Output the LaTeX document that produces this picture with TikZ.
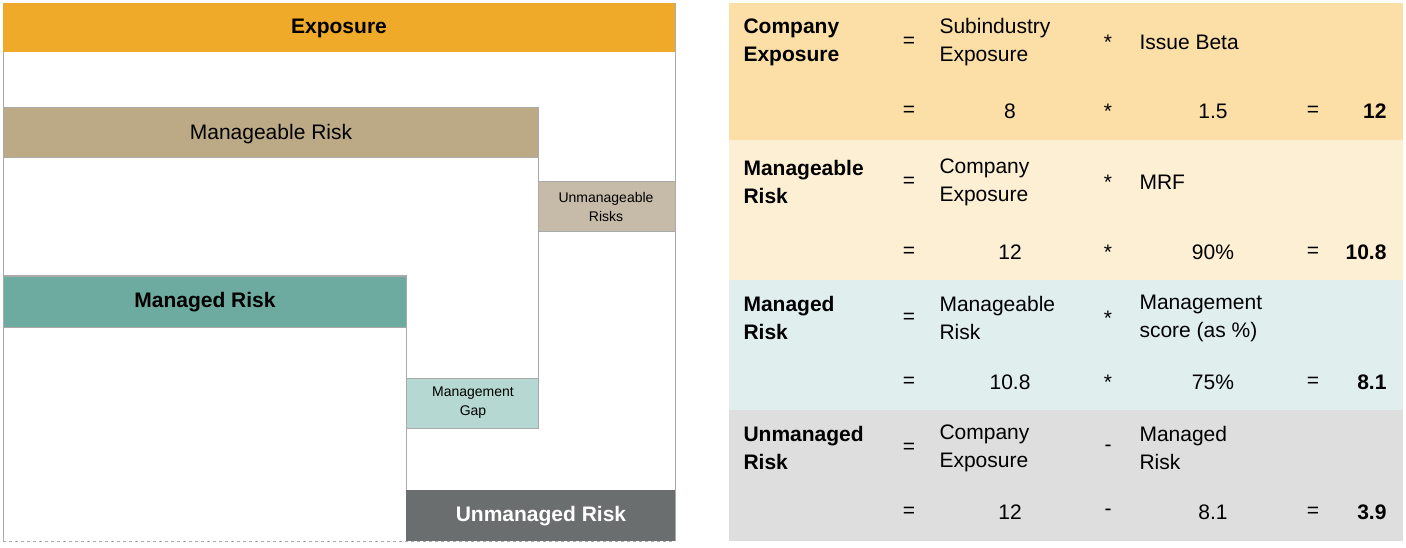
\documentclass[tikz,border=0pt]{standalone}
\usepackage{fontspec}
\setmainfont{Liberation Sans}
\definecolor{cExp}{HTML}{EEAA28}
\definecolor{cMab}{HTML}{BCA985}
\definecolor{cUnm}{HTML}{C5BBA8}
\definecolor{cMgd}{HTML}{6DAAA0}
\definecolor{cGap}{HTML}{B5D8D2}
\definecolor{cUnd}{HTML}{6B6E6E}
\definecolor{r1}{HTML}{FCDFA6}
\definecolor{r2}{HTML}{FDEFD3}
\definecolor{r3}{HTML}{E1EEEE}
\definecolor{r4}{HTML}{DEDEDE}
\definecolor{ln}{HTML}{AAAAAA}
\begin{document}
\begin{tikzpicture}[x=1pt,y=-1pt,
  bar/.style={draw=ln,line width=1pt},
  big/.style={font=\fontsize{21}{24}\selectfont},
  bigb/.style={font=\fontsize{21}{24}\selectfont\bfseries},
  small/.style={font=\fontsize{14}{19}\selectfont,align=center},
  cell/.style={font=\fontsize{21}{28}\selectfont,align=left},
  cellb/.style={font=\fontsize{21}{28}\selectfont\bfseries,align=left}]
\useasboundingbox (0,0) rectangle (1406,548);
% left panel
\draw[ln,line width=1pt] (3,3) -- (3,541);
\draw[ln,line width=1pt] (675,3) -- (675,541);
\draw[ln,dashed,line width=1pt] (3,541) -- (675,541);
\draw[ln,line width=1pt] (538,108) -- (538,428);
\draw[ln,line width=1pt] (406,276) -- (406,541);
\fill[cExp] (3,3) rectangle (675,52);
\node[bigb] (exp) at (339,28) {Exposure};
\draw[bar,fill=cMab] (3,108) rectangle (538,158);
\node[big] (mab) at (271,134) {Manageable Risk};
\draw[bar,fill=cUnm] (538,182) rectangle (675,232);
\node[small] (unm) at (606,207) {Unmanageable\\Risks};
\draw[bar,fill=cMgd] (3,276) rectangle (406,327);
\node[bigb] (mgd) at (205,302) {Managed Risk};
\draw[bar,fill=cGap] (406,378) rectangle (538,428);
\node[small] (gap) at (473,403) {Management\\Gap};
\fill[cUnd] (406,490) rectangle (675,541);
\node[bigb,text=white] (und) at (541,516) {Unmanaged Risk};
% right table
\fill[r1] (729,3) rectangle (1403,140);
\fill[r2] (729,140) rectangle (1403,280);
\fill[r3] (729,280) rectangle (1403,410);
\fill[r4] (729,410) rectangle (1403,541);
\foreach \yA/\yB/\lab/\ca/\op/\cb/\na/\nb/\res [count=\i] in
 {42/111/Company\\Exposure/Subindustry\\Exposure/*/Issue Beta/8/1.5/12,
  182/252/Manageable\\Risk/Company\\Exposure/*/MRF/12/90\%/10.8,
  318/382/Managed\\Risk/Manageable\\Risk/*/Management\\score (as \%)/10.8/75\%/8.1,
  448/512/Unmanaged\\Risk/Company\\Exposure/-/Managed\\Risk/12/8.1/3.9}{
  \node[cellb,anchor=west] (l\i) at (740,\yA) {\lab};
  \node[cell] (e\i) at (909,\yA) {=};
  \node[cell,anchor=west] (a\i) at (936,\yA) {\ca};
  \node[cell] (o\i) at (1108,\yA) {\op};
  \node[cell,anchor=west] (b\i) at (1136,\yA) {\cb};
  \node[cell] (f\i) at (909,\yB) {=};
  \node[cell] (n\i) at (1010,\yB) {\na};
  \node[cell] (p\i) at (1108,\yB) {\op};
  \node[cell] (m\i) at (1213,\yB) {\nb};
  \node[cell] (g\i) at (1313,\yB) {=};
  \node[cellb,anchor=east] (r\i) at (1390,\yB) {\res};
}
\end{tikzpicture}
\end{document}
